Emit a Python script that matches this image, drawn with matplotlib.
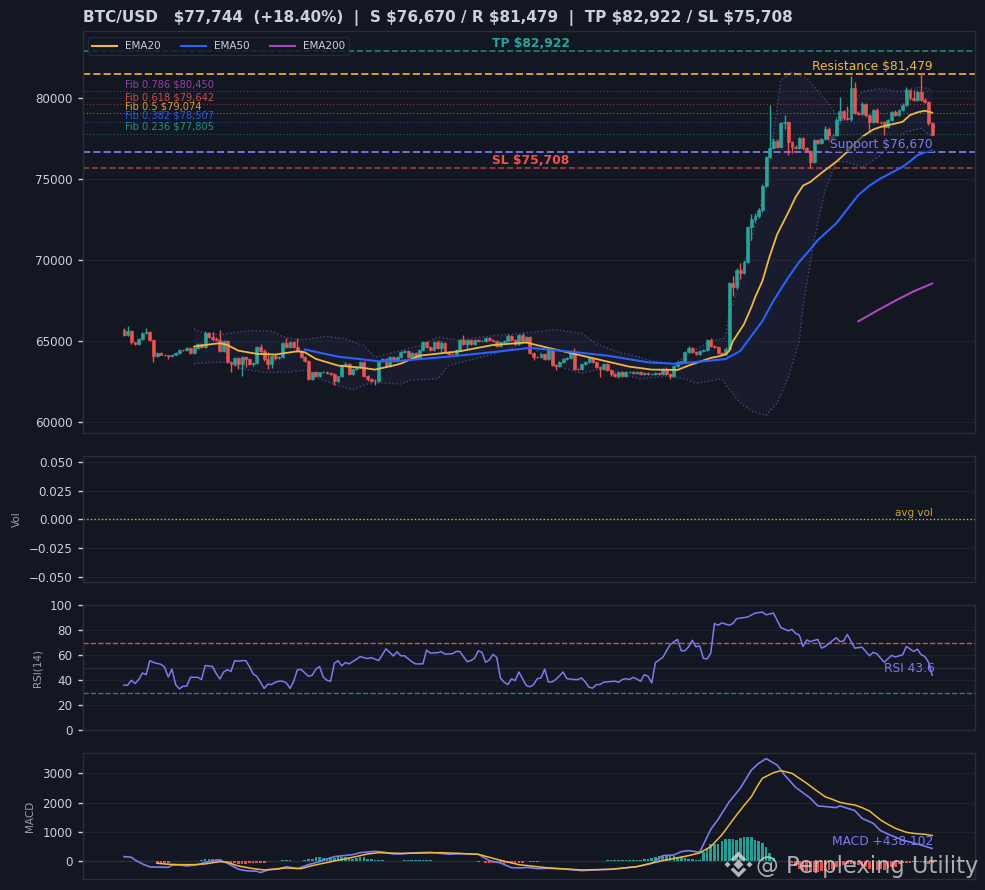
import matplotlib
matplotlib.use("Agg")
import matplotlib.pyplot as plt
from matplotlib.patches import Polygon
from matplotlib.lines import Line2D

first_open = 65720
closes = [
65410,65660,64940,64840,65150,65500,65550,65080,64070,64280,
64180,64130,64070,64180,64280,64460,64440,64590,64300,64590,
64860,64630,65530,65250,65140,65080,64420,65040,63700,63600,
63950,63600,64000,63900,63600,63640,64670,64380,63900,63600,
64100,63970,64050,64880,64670,64940,64670,64380,64000,63800,
62670,63080,62840,63080,63125,63060,62980,62530,62840,63560,
63600,62980,63290,63430,63700,62880,62670,62570,62530,63800,
63900,63500,64010,63800,64010,64320,64420,64000,64250,63970,
64460,64940,64630,64460,64940,64590,64900,64320,64220,64200,
64460,65080,64840,65080,64840,65080,65000,65030,65190,65050,
65000,64730,64940,65040,65350,65080,64840,65410,65000,65250,
64280,64010,64000,64220,63910,64460,63540,63500,63700,63900,
63950,64320,63290,63280,63600,63700,63950,63700,63400,63300,
63600,63230,62950,62880,63080,62880,63080,63125,63060,63120,
62980,63060,62980,62980,63060,62980,63230,62980,62880,63500,
63700,63750,64320,64590,64320,64220,64420,64450,65080,64700,
64650,64280,64220,64540,68620,68350,69380,69180,69900,72020,
72530,72740,73090,74590,76380,76900,77350,77000,78480,78520,
77300,77000,76950,77510,76900,76750,76070,77400,77200,77450,
78070,77500,77650,78640,79200,78750,78700,80600,79100,79000,
79630,78950,78540,79260,78540,78500,78230,78640,79160,78950,
79260,79570,80490,79980,79880,80390,79880,79770,78440,77744]
wick_up = [
100,250,60,40,60,60,280,100,60,60,
40,40,40,40,60,60,40,60,60,60,
60,60,100,60,350,100,600,60,60,100,
60,60,60,100,60,100,60,160,160,450,
60,100,60,60,320,60,60,500,60,60,
60,40,60,40,60,40,60,60,40,60,
100,60,40,60,100,60,40,60,100,60,
60,80,100,60,60,100,60,60,100,60,
60,60,100,80,60,150,100,60,60,60,
60,60,330,60,60,60,60,60,100,60,
60,60,60,60,100,60,60,60,100,60,
60,60,60,60,60,60,60,60,60,60,
60,100,250,60,60,60,80,100,100,60,
60,60,60,60,60,60,60,60,60,60,
40,40,40,60,60,60,100,150,60,60,
60,60,100,100,60,60,60,60,60,150,
60,60,60,100,60,400,150,470,120,60,
340,150,150,100,60,2670,200,100,60,410,
60,60,100,100,60,60,60,60,100,100,
200,120,150,150,880,60,760,760,410,100,
100,60,60,60,100,60,60,60,60,100,
60,100,200,100,510,100,1130,100,60,60]
wick_dn = [
60,100,120,100,60,60,60,60,370,60,
60,40,140,60,60,60,40,60,80,60,
60,60,60,60,100,60,60,60,60,500,
100,300,760,500,60,100,60,100,100,300,
270,100,60,60,60,100,60,60,60,60,
60,60,60,60,60,60,60,200,60,60,
60,60,60,60,60,60,100,60,200,60,
60,60,60,60,60,60,60,60,60,60,
60,60,60,60,60,60,300,60,100,60,
60,60,60,300,60,60,60,60,60,60,
60,60,60,60,60,60,60,60,60,60,
60,150,60,60,60,60,60,300,60,60,
60,60,60,60,60,60,60,60,60,500,
60,60,100,60,150,60,60,60,60,60,
60,60,60,60,60,60,60,60,200,60,
60,60,60,60,60,60,60,60,60,60,
60,60,60,60,60,560,100,350,60,100,
760,200,120,100,60,60,60,100,60,400,
820,410,100,60,100,60,410,60,60,60,
60,200,100,60,60,100,60,100,60,60,
60,100,620,60,100,100,510,60,60,60,
60,60,60,100,60,60,60,60,100,100]

ema20_i = [19,23,26,28,31,36,41,47,49,52,58,65,68,73,75,80,91,100,109,115,122,133,137,143,150,153,159,161,163,164,165,168,170,171,173,175,177,179,180,182,184,186,188,190,193,196,198,200,203,205,207,209,211,213,215,217,219]
ema20_v = [64670,64800,64880,64770,64420,64220,64180,64380,64320,63910,63500,63350,63250,63500,63620,64110,64380,64770,64920,64590,64220,63640,63430,63250,63230,63500,63970,64060,64180,64400,65000,66050,67100,67700,68720,70270,71600,72500,72950,73900,74600,74830,75200,75560,76070,76690,77200,77610,78060,78220,78330,78430,78540,78950,79120,79220,79100]
ema50_i = [49,58,65,69,75,89,102,110,120,131,142,150,154,163,167,169,173,176,180,183,186,188,193,196,199,202,205,208,211,213,215,217,219]
ema50_v = [64490,64050,63870,63760,63800,64070,64380,64590,64380,64110,63700,63600,63700,63900,64400,65015,66250,67500,68930,69900,70680,71240,72270,73150,74020,74600,75040,75400,75760,76100,76480,76650,76800]
ema200_i = [199,204,209,214,219]
ema200_v = [66230,66880,67500,68080,68560]
bb_up_i = [19,21,23,26,30,34,40,43,47,50,55,60,65,68,73,75,80,85,91,100,106,111,117,124,128,134,138,143,149,153,159,163,164,165,169,173,176,178,181,185,189,192,194,200,205,210,216,219]
bb_up_v = [65760,65550,65500,65410,65550,65660,65620,65290,65080,65140,65310,65140,64730,64010,64320,64420,64730,65250,65080,65350,65450,65560,65720,65490,64840,64320,64110,63800,63600,64220,65040,65200,66900,67280,70470,73870,77820,81110,81620,81210,80180,79360,78440,80390,80600,80390,80700,80490]
bb_lo_i = [19,23,28,32,38,44,50,53,58,62,66,70,75,78,85,88,93,102,109,117,124,129,135,140,147,152,155,162,164,167,170,174,177,180,183,184,187,190,193,196,200,205,207,212,216,219]
bb_lo_v = [63600,63700,63700,63290,63080,63080,63230,62670,62260,62010,62360,62430,62360,62610,62670,63500,63800,64320,64940,63500,63020,63290,62980,62670,62840,62670,62400,62670,62030,61200,60690,60420,61200,62750,65000,67180,71240,74320,76070,76070,75720,76480,77000,77920,78130,77610]

rsi_i = [0,1,2,3,4,5,6,7,8,10,11,12,13,14,15,16,17,18,20,21,22,24,25,26,27,28,29,30,31,32,33,34,35,36,38,39,40,41,42,43,44,45,46,47,48,50,51,52,53,54,55,56,57,58,59,60,61,63,64,66,67,69,71,73,74,75,76,78,79,81,82,83,85,86,87,89,90,91,93,94,95,96,97,98,99,100,101,102,103,104,105,106,107,109,110,111,112,113,114,115,116,117,119,120,122,123,124,125,126,127,128,129,130,133,134,135,136,137,138,140,141,142,143,144,146,148,150,151,152,153,154,155,156,157,158,159,160,161,162,164,165,166,169,171,173,174,176,178,180,181,182,183,184,185,186,188,189,190,192,193,194,195,196,198,200,202,203,204,206,208,209,211,212,214,215,216,217,218,219]
rsi_v = [36,36,39.9,37.3,40.5,45.7,44.4,55.6,54.1,52.7,50.4,42.5,48.8,36.5,33.1,35.2,35.2,42.3,42.3,40.5,51.7,50.9,45.2,41,46.5,48.3,47,55.6,55.1,55.6,55.6,50.9,44.9,43.1,33.4,36.8,36.5,38.4,39.2,39.2,37.8,33.4,39.2,48.3,48.6,43.1,43.9,48.8,50.9,42.5,39.9,39.2,53.5,55.6,51.4,54.1,53,56.7,58.8,57.2,58,55.6,65,59.3,62.7,59.5,59.5,54.8,53,53,64,61.6,61.9,62.7,60.8,61.1,62.9,62.9,54.8,55.6,57.5,63.5,62.2,54.3,56.1,60.6,58.2,41.8,38.4,36.5,41,39.7,46.5,35.8,34.7,36.5,41.2,41.8,48.8,38.6,38.6,40.5,46.5,41.2,40.5,40.5,41.8,38.6,34.4,33.6,36.5,36.5,38.4,39.2,38.4,40.5,41.2,40.5,42.3,39.2,44.4,43.1,37.8,54,58.2,68.4,72.6,63.5,63.5,66.6,71.8,66.6,67.4,57.5,56.9,61.6,85.2,83.9,85.7,83.9,85.2,89.1,90.4,93.5,94.3,92.2,93.5,82,79.4,80.5,77.3,76,66.9,72.1,70.8,72.6,65.6,66.9,71.6,73.9,70.8,71.3,76.5,65.6,66.3,59.5,62.2,61.1,54.3,59.8,58.5,60.3,66.9,62.9,64.8,60.3,59,54.3,43.9]

macd_i = [0,2,3,5,7,12,13,15,17,20,22,26,28,31,33,36,37,39,42,44,47,50,53,57,62,64,68,70,73,75,78,83,88,91,96,99,102,105,108,109,112,115,119,124,128,133,139,143,146,149,151,153,156,159,161,164,167,170,172,174,177,179,182,186,188,193,194,198,200,203,205,207,211,215,219]
macd_v = [160,136,45,-90,-190,-205,-136,-125,-160,-114,-34,45,-68,-270,-320,-340,-386,-295,-260,-182,-250,-114,-11,159,227,295,340,318,250,250,284,307,239,261,239,23,-57,-216,-227,-204,-250,-239,-261,-318,-295,-261,-182,-68,193,216,330,364,307,1090,1430,2030,2490,3110,3340,3500,3280,2940,2520,2150,1890,1830,1890,1730,1465,1295,1045,930,720,590,438]
signal_i = [9,12,15,19,22,26,28,31,35,38,44,48,51,57,62,66,69,75,86,96,102,107,115,124,132,139,146,153,156,159,162,164,166,168,170,172,173,176,178,181,183,185,187,190,192,194,196,198,200,202,205,207,209,212,214,217,219]
signal_v = [-68,-100,-114,-114,-90,-11,-34,-160,-250,-295,-227,-250,-148,11,136,250,295,270,295,239,34,-114,-227,-295,-273,-182,23,193,284,500,900,1240,1580,1900,2200,2640,2830,3020,3090,3000,2830,2660,2470,2200,2110,2010,1960,1920,1830,1715,1410,1260,1125,990,950,920,880]
hist = [
0,0,0,0,0,0,0,0,0,-100,
-50,-60,-55,0,0,0,0,0,0,0,
0,50,90,70,90,90,70,0,-30,-70,
-50,-80,-90,-100,-55,-55,-55,-55,-55,0,
25,25,25,60,60,30,0,0,0,60,
90,90,140,140,120,120,130,120,160,150,
140,110,90,100,130,130,80,80,60,60,
40,0,0,0,0,0,30,30,30,30,
30,30,30,30,0,0,0,0,0,0,
0,0,0,0,0,0,-25,0,-60,-70,
-60,-50,-50,-80,-50,-50,-50,-60,-50,0,
-25,-25,-25,0,0,0,0,0,0,0,
0,0,0,0,0,0,0,0,0,0,
25,30,30,50,60,60,40,50,40,50,
60,80,90,110,150,170,190,170,190,180,
160,130,100,90,70,60,40,330,440,590,
590,590,690,760,760,760,730,780,820,820,
820,730,700,635,480,270,100,0,0,0,
0,-60,-160,-250,-300,-340,-350,-350,-360,-340,
-320,-280,-250,-200,-150,-120,-100,-90,-80,-120,
-160,-200,-260,-280,-300,-260,-300,-240,-200,-200,
-100,-60,-60,-50,-30,-30,-30,-60,-100,-60]

fib_names = ["Fib 0.786 $80,450","Fib 0.618 $79,642","Fib 0.5 $79,074","Fib 0.382 $78,507","Fib 0.236 $77,805"]
fib_levels = [80450,79642,79074,78507,77805]
tp_level, resistance, support, sl_level = 82922, 81479, 76670, 75708
title_text = "BTC/USD   $77,744  (+18.40%)  |  S $76,670 / R $81,479  |  TP $82,922 / SL $75,708"

BG="#131722"; SP="#2a2e39"; GR="#1e222d"; TXT="#c9d1d9"
UP="#26a69a"; DN="#ef5350"; YEL="#f0b93a"; BLU="#2962ff"; PUR="#ab47bc"; IND="#7b7bf0"
fib_colors=[PUR,DN,YEL,BLU,UP]

W,H=985,890
fig=plt.figure(figsize=(W/100,H/100),dpi=100,facecolor=BG)
def mk(top,bot):
    ax=fig.add_axes([83/W,1-bot/H,(975-83)/W,(bot-top)/H],facecolor=BG)
    for s in ax.spines.values():
        s.set_color(SP); s.set_linewidth(1)
    ax.set_xlim(-11.1,230.6)
    ax.set_xticks([])
    ax.tick_params(axis='y',colors=TXT,labelsize=8.6,length=3.5,width=1,pad=4)
    ax.yaxis.grid(True,color=GR,lw=0.8); ax.set_axisbelow(True)
    return ax
ax=mk(31,433.3); axv=mk(456.3,582.3); axr=mk(605,730.3); axm=mk(753.3,879.3)

# main panel
idx=list(range(len(closes)))
opens=[first_open]+closes[:-1]
for i in idx:
    o,c=opens[i],closes[i]
    col=UP if c>=o else DN
    ax.vlines(i,min(o,c)-wick_dn[i],max(o,c)+wick_up[i],color=col,lw=1,zorder=3)
    ax.bar(i,abs(c-o) or 20,bottom=min(o,c),width=0.78,color=col,edgecolor=col,lw=0.4,zorder=3)
ax.fill(bb_up_i+bb_lo_i[::-1],bb_up_v+bb_lo_v[::-1],color="#7b7bf0",alpha=0.055,lw=0,zorder=1)
ax.plot(bb_up_i,bb_up_v,color="#5a5aa8",ls=':',lw=1,alpha=0.7,zorder=2)
ax.plot(bb_lo_i,bb_lo_v,color="#5a5aa8",ls=':',lw=1,alpha=0.7,zorder=2)
ax.plot(ema20_i,ema20_v,color=YEL,lw=1.3,zorder=4)
ax.plot(ema50_i,ema50_v,color=BLU,lw=1.5,zorder=4)
ax.plot(ema200_i,ema200_v,color=PUR,lw=1.5,zorder=4)
for lvl,col,a,lw in [(tp_level,UP,0.75,1.2),(resistance,YEL,0.85,1.4),(support,IND,0.9,1.4),(sl_level,DN,0.65,1.2)]:
    ax.axhline(lvl,color=col,ls='--',lw=lw,alpha=a,zorder=2)
for n,l,c in zip(fib_names,fib_levels,fib_colors):
    ax.axhline(l,color=c,lw=0.8,alpha=0.55,zorder=2,dashes=(1,2))
    ax.text(0.2,l+110,n,color=c,fontsize=7.15,alpha=0.85,va='bottom',ha='left',zorder=5)
ax.text(110.3,tp_level+40,"TP $82,922",color=UP,fontsize=8.8,fontweight='bold',ha='center',va='bottom',zorder=5)
ax.text(110.3,sl_level+70,"SL $75,708",color=DN,fontsize=8.8,fontweight='bold',ha='center',va='bottom',zorder=5)
ax.text(219.2,resistance+60,"Resistance $81,479",color=YEL,fontsize=8.8,ha='right',va='bottom',zorder=5)
ax.text(219.2,support+90,"Support $76,670",color=IND,fontsize=8.8,ha='right',va='bottom',zorder=5,
        bbox=dict(facecolor=BG,alpha=0.6,lw=0,pad=1))
ax.set_ylim(59320,84140)
ax.set_yticks([60000,65000,70000,75000,80000])
ax.legend(handles=[Line2D([],[],color=YEL,lw=1.5,label="EMA20"),Line2D([],[],color=BLU,lw=1.5,label="EMA50"),Line2D([],[],color=PUR,lw=1.5,label="EMA200")],
          loc='upper left',ncol=3,fontsize=7.5,facecolor=BG,edgecolor=SP,labelcolor=TXT,framealpha=0.8,
          bbox_to_anchor=(0.0056,0.985),borderaxespad=0,columnspacing=1.9,handlelength=2.4)
fig.text(83/W,1-17.5/H,title_text,color=TXT,fontsize=11,fontweight='bold',ha='left',va='center')

# volume panel
axv.axhline(0,color=YEL,ls=':',lw=1,alpha=0.9)
axv.text(219.2,0.001,"avg vol",color=YEL,fontsize=7.5,alpha=0.85,ha='right',va='bottom')
axv.set_ylim(-0.055,0.055)
axv.set_yticks([-0.05,-0.025,0,0.025,0.05])
axv.set_yticklabels(["\u22120.050","\u22120.025","0.000","0.025","0.050"])
axv.set_ylabel("Vol",color="#9aa0aa",fontsize=7.5,labelpad=5)

# RSI panel
axr.plot(rsi_i,rsi_v,color=IND,lw=1.1,zorder=3)
axr.axhline(70,color=DN,ls='--',lw=1,alpha=0.9)
axr.axhline(30,color=UP,ls='--',lw=1,alpha=0.75)
axr.axhline(50,color=SP,lw=1)
axr.text(219.8,rsi_v[-1],"RSI 43.6",color=IND,fontsize=8.8,ha='right',va='bottom',zorder=4)
axr.set_ylim(0,100)
axr.set_yticks([0,20,40,60,80,100])
axr.set_ylabel("RSI(14)",color="#9aa0aa",fontsize=7.5,labelpad=5.5)

# MACD panel
for i in idx:
    if hist[i]:
        axm.bar(i,hist[i],width=0.72,color=UP if hist[i]>0 else DN,lw=0,alpha=0.95,zorder=2)
axm.plot(macd_i,macd_v,color=IND,lw=1.2,zorder=3)
axm.plot(signal_i,signal_v,color=YEL,lw=1.1,zorder=3)
axm.axhline(0,color=SP,lw=1,zorder=1)
axm.text(219.2,macd_v[-1],"MACD +438.102",color=IND,fontsize=8.8,ha='right',va='bottom',zorder=4)
axm.set_ylim(-614,3682)
axm.set_yticks([0,1000,2000,3000])
axm.set_ylabel("MACD",color="#9aa0aa",fontsize=7.5,labelpad=5.5)

# watermark
WM="#d2d2d2"
fig.text(756/W,1-866/H,"@ Perplexing Utility",color=WM,alpha=0.8,fontsize=16.3,ha='left',va='center',zorder=20)
cx,cy=738.5,864.5
shapes=[[(0,-5),(5,0),(0,5),(-5,0)],[(-11,-3),(-8,0),(-11,3),(-14,0)],[(11,-3),(14,0),(11,3),(8,0)],
        [(0,-13),(8,-5),(5,-3),(0,-8),(-5,-3),(-8,-5)],[(0,13),(8,5),(5,3),(0,8),(-5,3),(-8,5)]]
for s in shapes:
    fig.add_artist(Polygon([((cx+a)/W,1-(cy+b)/H) for a,b in s],closed=True,transform=fig.transFigure,facecolor=WM,alpha=0.85,edgecolor='none',zorder=20))

fig.savefig("out.png",dpi=100,facecolor=BG)
